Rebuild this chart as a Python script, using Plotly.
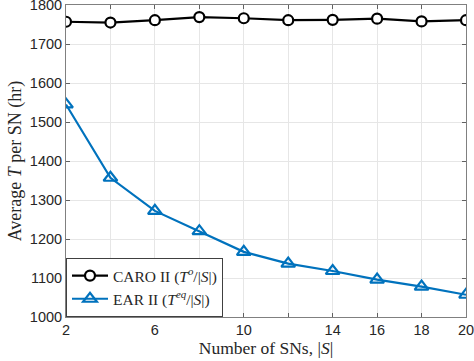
import plotly.graph_objects as go

num_sns = [2, 4, 6, 8, 10, 12, 14, 16, 18, 20]
caro_ii = [1757, 1755, 1761, 1769, 1766, 1761, 1762, 1765, 1758, 1761]
ear_ii = [1545, 1357, 1272, 1220, 1167, 1137, 1118, 1096, 1078, 1057]

x_tickvals = [2, 4, 6, 8, 10, 12, 14, 16, 18, 20]
x_ticktext = ["2", "", "6", "", "10", "", "14", "16", "18", "20"]
y_tickvals = [1000, 1100, 1200, 1300, 1400, 1500, 1600, 1700, 1800]

serif = "Liberation Serif"
sans = "Liberation Sans"

fig = go.Figure()
fig.add_trace(go.Scatter(
    x=num_sns, y=caro_ii, mode="lines+markers",
    name="CARO II (<i>T</i><sup><i>o</i></sup>/|<i>S</i>|)",
    line=dict(color="black", width=2.2),
    marker=dict(symbol="circle", size=10, color="white",
                line=dict(color="black", width=2.2)),
))
fig.add_trace(go.Scatter(
    x=num_sns, y=ear_ii, mode="lines+markers",
    name="EAR II (<i>T</i><sup><i>eq</i></sup>/|<i>S</i>|)",
    line=dict(color="#0072BD", width=2.2),
    marker=dict(symbol="triangle-up-open", size=12, color="#0072BD",
                line=dict(color="#0072BD", width=2.2)),
))

axis_common = dict(
    showline=True, linecolor="#808080", linewidth=1, mirror="allticks",
    ticks="inside", ticklen=4, tickcolor="#606060",
    showgrid=True, gridcolor="#e6e6e6", gridwidth=1, zeroline=False,
    tickfont=dict(family=sans, size=14.5, color="#262626"),
    automargin=False, ticklabeloverflow="allow",
)

fig.update_layout(
    width=474, height=361,
    margin=dict(l=66, r=8, t=5, b=44),
    paper_bgcolor="white", plot_bgcolor="white",
    showlegend=True,
    legend=dict(
        x=0, y=0, xanchor="left", yanchor="bottom",
        bgcolor="white", bordercolor="#404040", borderwidth=1,
        font=dict(family=serif, size=15.5, color="#262626"),
        tracegroupgap=0, itemwidth=36,
    ),
    xaxis=dict(
        range=[2, 20], tickvals=x_tickvals, ticktext=x_ticktext,
        title=dict(text="Number of SNs, |<i>S</i>|", standoff=2,
                   font=dict(family=serif, size=17.5, color="#262626")),
        **axis_common,
    ),
    yaxis=dict(
        range=[1000, 1800], tickvals=y_tickvals,
        title=dict(text="Average <i>T</i> per SN (hr)", standoff=3,
                   font=dict(family=serif, size=18, color="#262626")),
        **axis_common,
    ),
)

fig.write_html(
    "out.html",
    config={"displayModeBar": False},
    post_script="document.body.style.margin='0';document.body.style.overflow='hidden';",
)
